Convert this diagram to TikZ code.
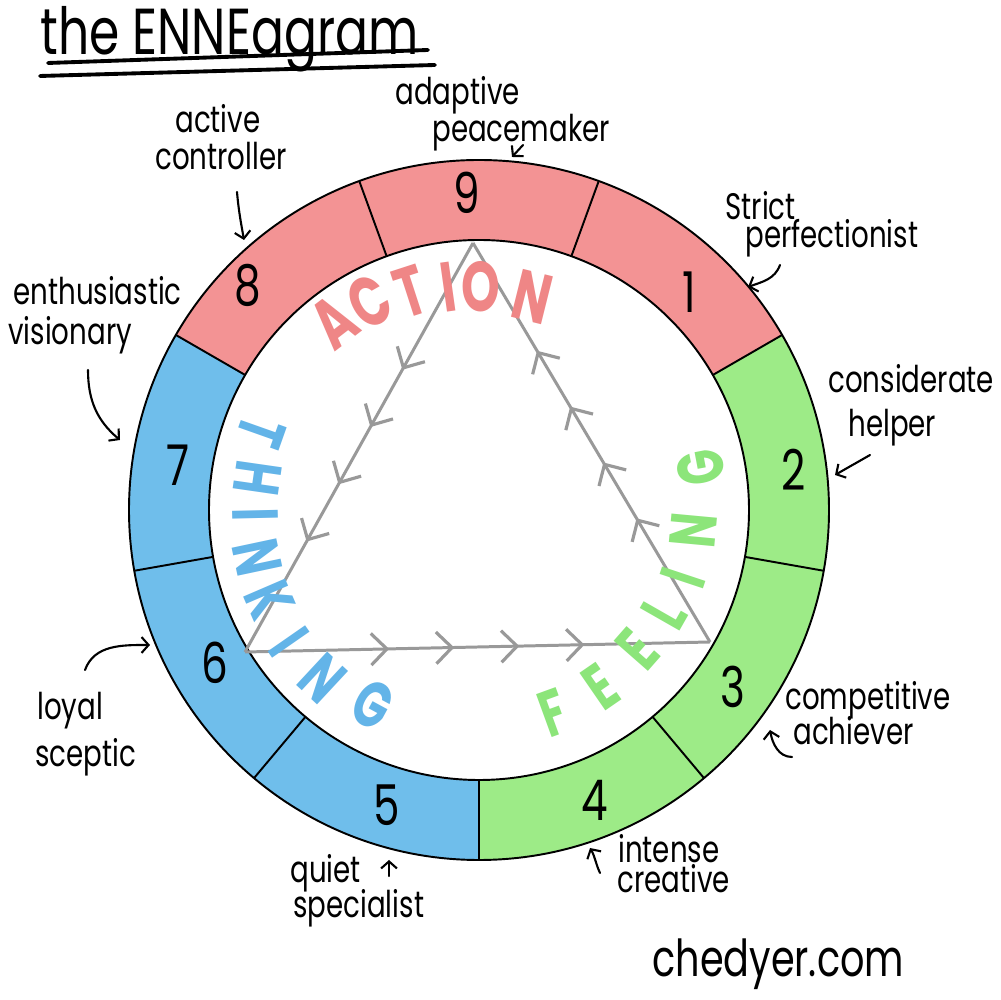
\documentclass[tikz,border=0pt]{standalone}
\usepackage{fontspec}
\usetikzlibrary{arrows.meta,decorations.markings}
\newfontfamily\handfont{Poppins}[FakeStretch=0.75]
\newfontfamily\bigfont{Poppins}[FakeStretch=0.7]
\definecolor{redseg}{HTML}{F39394}
\definecolor{greenseg}{HTML}{9DEB87}
\definecolor{blueseg}{HTML}{6FBEEB}
\definecolor{redtxt}{HTML}{EF8686}
\definecolor{bluetxt}{HTML}{63B4E8}
\definecolor{greentxt}{HTML}{8CE57A}
\definecolor{trigray}{HTML}{999999}
\tikzset{
  ringline/.style={draw=black, line width=1.1pt},
  digit/.style={font=\handfont\fontsize{32}{34}\selectfont, inner sep=0pt},
  lbl/.style={font=\handfont\fontsize{21}{24}\selectfont, inner sep=0pt, anchor=base west},
  callout/.style={draw=black, line width=1.2pt, line cap=round, -{Straight Barb[length=4pt,width=9pt,line width=1.2pt]}},
  triside/.style={draw=trigray, line width=1.7pt, postaction=decorate,
    decoration={markings,
      mark=at position 0.31 with {\arrow{Straight Barb[length=9pt,width=18pt,line width=1.8pt,color=trigray]}},
      mark=at position 0.45 with {\arrow{Straight Barb[length=9pt,width=18pt,line width=1.8pt,color=trigray]}},
      mark=at position 0.59 with {\arrow{Straight Barb[length=9pt,width=18pt,line width=1.8pt,color=trigray]}},
      mark=at position 0.73 with {\arrow{Straight Barb[length=9pt,width=18pt,line width=1.8pt,color=trigray]}}}},
  actionl/.style={font=\bigfont\bfseries\fontsize{40}{40}\selectfont, text=redtxt, inner sep=0pt},
  thinkl/.style={font=\bigfont\bfseries\fontsize{37}{37}\selectfont, text=bluetxt, inner sep=0pt},
  feell/.style={font=\bigfont\bfseries\fontsize{37}{37}\selectfont, text=greentxt, inner sep=0pt},
}
\begin{document}
\begin{tikzpicture}[x=0.02cm, y=0.02cm]
\path[use as bounding box] (0,0) rectangle (1000,1000);
\fill[white] (0,0) rectangle (1000,1000);

% ---- ring ----
\begin{scope}[shift={(479,490)}]
  \fill[redseg] (30:270) arc[start angle=30, end angle=150, radius=270]
     -- (150:350) arc[start angle=150, end angle=30, radius=350] -- cycle;
  \fill[greenseg] (-90:270) arc[start angle=-90, end angle=30, radius=270]
     -- (30:350) arc[start angle=30, end angle=-90, radius=350] -- cycle;
  \fill[blueseg] (150:270) arc[start angle=150, end angle=270, radius=270]
     -- (270:350) arc[start angle=270, end angle=150, radius=350] -- cycle;
  \draw[ringline] (0,0) circle[radius=350];
  \draw[ringline] (0,0) circle[radius=270];
  \foreach \a in {30,70,110,150,190,230,270,310,350}
    \draw[ringline] (\a:270) -- (\a:350);
\end{scope}

% ---- digits ----
\node[digit] (n9) at (467,807) {9};
\node[digit] (n1) at (689,708) {1};
\node[digit] (n2) at (794,530) {2};
\node[digit] (n3) at (733,313) {3};
\node[digit] (n4) at (595,200) {4};
\node[digit] (n5) at (387,195) {5};
\node[digit] (n6) at (215,337) {6};
\node[digit] (n7) at (178,535) {7};
\node[digit] (n8) at (248,715) {8};

% ---- triangle ----
\coordinate (vT) at (473,757);
\coordinate (vL) at (245,348);
\coordinate (vR) at (710,358);
\draw[triside] (vT) -- (vL);
\draw[triside] (vL) -- (vR);
\draw[triside] (vR) -- (vT);

% ---- centre words ----
\foreach \ch/\x/\y/\r [count=\i] in {A/334/678/37.5, C/370/698/29.5, T/411/708/18, I/448/713/8, O/481/713/0, N/532/703/-14}
  \node[actionl, rotate=\r] (act\i) at (\x,\y) {\ch};
\foreach \ch/\x/\y/\r [count=\i] in {T/262/568/250.5, H/258/522/261.8, I/255/485/271.3, N/257/443/282, K/270/400/293.3, I/289/358/304.8, N/323/322/317.1, G/373/295/331.5}
  \node[thinkl, rotate=\r] (thi\i) at (\x,\y) {\ch};
\foreach \ch/\x/\y/\r [count=\i] in {F/553/287/20, E/601/313/34.6, E/637/351/48.7, L/664/387/60.3, I/683/422/71.6, N/693/470/84.7, G/701/532/100.7}
  \node[feell, rotate=\r] (fee\i) at (\x,\y) {\ch};

% ---- title ----
\node[lbl, font=\handfont\fontsize{37}{39}\selectfont] (title) at (40,945) {the ENNEagram};
\coordinate (u1a) at (48,937); \coordinate (u1b) at (428,950);
\coordinate (u2a) at (40,924); \coordinate (u2b) at (435,935);
\draw[line width=2.2pt, line cap=round] (u1a) -- (u1b);
\draw[line width=2.2pt, line cap=round] (u2a) -- (u2b);

% ---- labels ----
\node[lbl] (adapt) at (395,895) {adaptive};
\node[lbl] (peace) at (432,858) {peacemaker};
\node[lbl] (activ) at (175,867) {active};
\node[lbl] (contr) at (155,830) {controller};
\node[lbl] (stric) at (725,780) {Strict};
\node[lbl] (perfe) at (745,752) {perfectionist};
\node[lbl] (consi) at (828,607) {considerate};
\node[lbl] (helpe) at (848,563) {helper};
\node[lbl] (enthu) at (13,695) {enthusiastic};
\node[lbl] (visio) at (8,655) {visionary};
\node[lbl] (loyal) at (37,280) {loyal};
\node[lbl] (scept) at (35,233) {sceptic};
\node[lbl] (compe) at (785,290) {competitive};
\node[lbl] (achie) at (793,255) {achiever};
\node[lbl] (quiet) at (290,117) {quiet};
\node[lbl] (speci) at (293,82) {specialist};
\node[lbl] (inten) at (618,137) {intense};
\node[lbl] (creat) at (617,107) {creative};
\node[lbl, font=\handfont\fontsize{29}{31}\selectfont] (site) at (652,23) {chedyer.com};

% ---- callout arrows ----
\coordinate (c9s) at (523,855); \coordinate (c9e) at (512,843);
\draw[callout] (c9s) -- (c9e);
\coordinate (c8s) at (237,808); \coordinate (c8e) at (244,760);
\draw[callout] (c8s) to[out=-85,in=100] (c8e);
\coordinate (c1s) at (780,735); \coordinate (c1e) at (748,713);
\draw[callout] (c1s) to[out=-110,in=20] (c1e);
\coordinate (c2s) at (870,545); \coordinate (c2e) at (835,525);
\draw[callout] (c2s) to[out=210,in=30] (c2e);
\coordinate (c7s) at (88,630); \coordinate (c7e) at (120,560);
\draw[callout] (c7s) to[out=-90,in=140] (c7e);
\coordinate (c6s) at (85,330); \coordinate (c6e) at (150,355);
\draw[callout] (c6s) to[out=70,in=180] (c6e);
\coordinate (c3s) at (792,243); \coordinate (c3e) at (770,270);
\draw[callout] (c3s) to[out=180,in=-80] (c3e);
\coordinate (c4s) at (600,127); \coordinate (c4e) at (590,152);
\draw[callout] (c4s) to[out=115,in=-60] (c4e);
\coordinate (c5s) at (389,124); \coordinate (c5e) at (389,140);
\draw[callout] (c5s) -- (c5e);
\end{tikzpicture}
\end{document}
